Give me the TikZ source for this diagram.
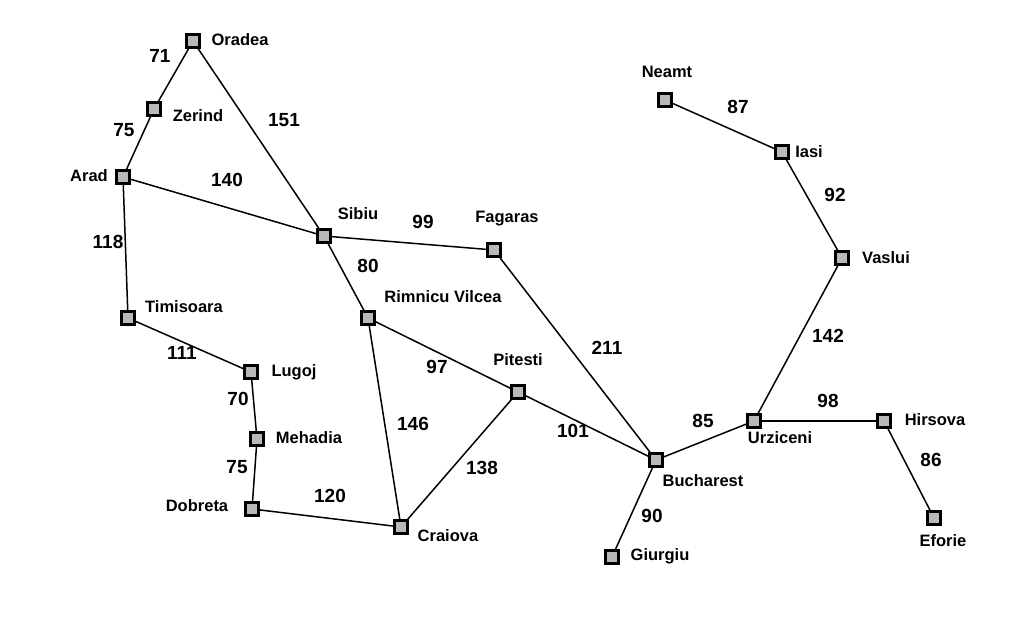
\documentclass[tikz,border=0pt]{standalone}
\usepackage{fontspec}
\setmainfont{Liberation Sans}
\begin{document}
\begin{tikzpicture}[x=1pt,y=-1pt,
city/.style={draw,line width=2.6pt,fill=gray!55,minimum size=13pt,inner sep=0pt},
lbl/.style={font=\bfseries\fontsize{16.5}{16.5}\selectfont},
dist/.style={font=\bfseries\fontsize{19}{19}\selectfont},
road/.style={line width=1.5pt}]
\useasboundingbox (0,0) rectangle (1024,620);
\foreach \n/\x/\y in {Oradea/193/41,Zerind/154/109,Arad/123/177,Sibiu/324/236,Fagaras/494/250,Timisoara/128/318,Rimnicu/368/318,Lugoj/251/372,Mehadia/257/439,Dobreta/252/509,Craiova/401/527,Pitesti/518/392,Bucharest/656/460,Giurgiu/612/557,Urziceni/754/421,Hirsova/884/421,Eforie/934/518,Vaslui/842/258,Iasi/782/152,Neamt/665/100}
  \node[city] (\n) at (\x,\y) {};
\foreach \a/\b in {Oradea/Zerind,Zerind/Arad,Oradea/Sibiu,Arad/Sibiu,Arad/Timisoara,Sibiu/Fagaras,Sibiu/Rimnicu,Timisoara/Lugoj,Lugoj/Mehadia,Mehadia/Dobreta,Dobreta/Craiova,Rimnicu/Craiova,Rimnicu/Pitesti,Craiova/Pitesti,Pitesti/Bucharest,Fagaras/Bucharest,Bucharest/Giurgiu,Bucharest/Urziceni,Urziceni/Hirsova,Hirsova/Eforie,Urziceni/Vaslui,Vaslui/Iasi,Iasi/Neamt}
  \draw[road] (\a) -- (\b);
\foreach \t/\x/\y [count=\i] in {Oradea/240/40,Zerind/198/116,Arad/89/176,Sibiu/358/214,Fagaras/507/219,Timisoara/184/307,Rimnicu Vilcea/443/297,Lugoj/294/372,Mehadia/309/438,Dobreta/197/506,Craiova/448/536,Pitesti/518/360,Bucharest/703/481,Giurgiu/660/556,Urziceni/780/438,Hirsova/935/420,Eforie/943/541,Vaslui/886/258,Iasi/809/152,Neamt/667/72}
  \node[lbl] (l\i) at (\x,\y) {\t};
\foreach \t/\x/\y [count=\i] in {71/160/56,75/124/130,151/284/120,140/227/180,118/108/242,99/423/222,80/368/266,111/182/353,70/238/399,75/237/467,120/330/496,146/413/424,97/437/367,138/482/468,101/573/431,211/607/348,90/652/516,85/703/421,98/828/401,86/931/460,142/828/336,92/835/195,87/738/107}
  \node[dist] (d\i) at (\x,\y) {\t};
\end{tikzpicture}
\end{document}
